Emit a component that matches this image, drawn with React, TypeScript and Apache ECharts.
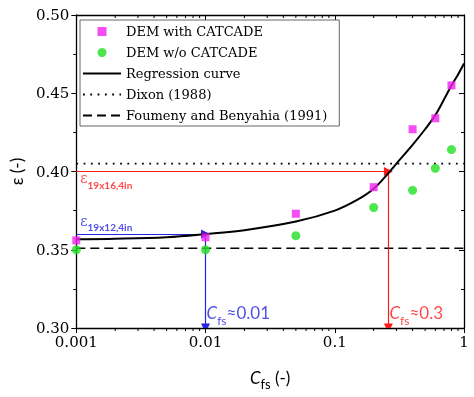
import React, { useEffect, useRef } from "react";
import * as echarts from "echarts";

// ---- data ----
const cfsPoints = [0.001, 0.01, 0.05, 0.2, 0.4, 0.6, 0.8];
const epsWithCatcade = [0.356, 0.358, 0.373, 0.390, 0.427, 0.434, 0.455];
const epsWithoutCatcade = [0.350, 0.350, 0.359, 0.377, 0.388, 0.402, 0.414];

const curveCfs = [0.001, 0.002, 0.005, 0.01, 0.02, 0.05, 0.1, 0.15, 0.2, 0.26, 0.3, 0.4, 0.5, 0.6, 0.7, 0.8, 0.9, 1.0];
const curveEps = [0.3567, 0.357, 0.358, 0.360, 0.3625, 0.368, 0.375, 0.382, 0.389, 0.399, 0.405, 0.417, 0.427, 0.436, 0.446, 0.455, 0.462, 0.469];

const dixonEps = 0.405;
const foumenyEps = 0.351;
const xRange = [0.001, 1];

const xTickValues = [0.001, 0.01, 0.1, 1];
const xTickLabels = ["0.001", "0.01", "0.1", "1"];
const xMinorTicks = [
  0.002, 0.003, 0.004, 0.005, 0.006, 0.007, 0.008, 0.009,
  0.02, 0.03, 0.04, 0.05, 0.06, 0.07, 0.08, 0.09,
  0.2, 0.3, 0.4, 0.5, 0.6, 0.7, 0.8, 0.9,
];

// arrows (data coordinates)
const blueEps = 0.36;
const blueCfs = 0.01;
const redEps = 0.40;
const redCfs = 0.26;

const seriesNames = [
  "DEM with CATCADE",
  "DEM w/o CATCADE",
  "Regression curve",
  "Dixon (1988)",
  "Foumeny and Benyahia (1991)",
];

const SERIF = "DejaVu Serif";
const SANS = "Lato";
const RED = "#ff1a1a";
const BLUE = "#2323e0";

const epsRich = (color: string) => ({
  e: { fontFamily: SERIF, fontSize: 14, color, verticalAlign: "top", lineHeight: 14 },
  s: { fontFamily: SANS, fontWeight: "bold", fontSize: 10, color, verticalAlign: "bottom", lineHeight: 18.5 },
});
const cfsRich = (color: string) => ({
  i: { fontFamily: SANS, fontStyle: "italic", fontSize: 17, color, verticalAlign: "top", lineHeight: 20 },
  s: { fontFamily: SANS, fontSize: 12, color, verticalAlign: "bottom", lineHeight: 22 },
  n: { fontFamily: SANS, fontSize: 17, color, verticalAlign: "top", lineHeight: 20 },
});

export default function App() {
  const ref = useRef<HTMLDivElement>(null);
  useEffect(() => {
    if (!ref.current) return;
    const chart = echarts.init(ref.current, null, { renderer: "svg" });
    const fmtX = (v: number) => {
      for (let i = 0; i < xTickValues.length; i++) {
        if (Math.abs(Math.log10(v) - Math.log10(xTickValues[i])) < 1e-6) return xTickLabels[i];
      }
      return "";
    };
    const yMin = 0.3;
    const yMax = 0.5;
    chart.setOption({
      animation: false,
      grid: { left: 73, right: 10, top: 15, bottom: 69, containLabel: false },
      legend: {
        orient: "vertical",
        left: 80,
        top: 20,
        data: [
          { name: seriesNames[0], icon: "path://M0,0H10V10H0Z" },
          { name: seriesNames[1], icon: "circle" },
          { name: seriesNames[2], itemStyle: { opacity: 0 } },
          { name: seriesNames[3], itemStyle: { opacity: 0 } },
          { name: seriesNames[4], itemStyle: { opacity: 0 } },
        ],
        itemWidth: 38,
        itemHeight: 9,
        itemGap: 8,
        padding: [5, 12, 4, 2],
        backgroundColor: "#fff",
        borderColor: "#666",
        borderWidth: 1,
        borderRadius: 0,
        textStyle: { fontFamily: SERIF, fontSize: 13, color: "#000" },
      },
      xAxis: [
        {
          type: "log",
          logBase: 10,
          min: xRange[0],
          max: xRange[1],
          position: "bottom",
          name: "{i|C}{s|fs}{n| (-)}",
          nameLocation: "middle",
          nameGap: 41,
          nameTextStyle: {
            rich: {
              i: { fontFamily: SANS, fontStyle: "italic", fontSize: 17, color: "#000", verticalAlign: "top", lineHeight: 20 },
              s: { fontFamily: SANS, fontSize: 13, color: "#000", verticalAlign: "bottom", lineHeight: 21.5 },
              n: { fontFamily: SANS, fontSize: 17, color: "#000", verticalAlign: "top", lineHeight: 20 },
            },
          },
          axisLine: { show: true, lineStyle: { color: "#000", width: 1.3 } },
          axisTick: { show: true, inside: false, length: 5, lineStyle: { color: "#000", width: 1 } },
          axisLabel: { formatter: fmtX, fontFamily: SERIF, fontSize: 15, color: "#000", margin: 6 },
          splitLine: { show: false },
        },
        {
          type: "log",
          logBase: 10,
          min: xRange[0],
          max: xRange[1],
          position: "top",
          axisLine: { show: true, lineStyle: { color: "#000", width: 1.3 } },
          axisTick: { show: true, inside: true, length: 5, lineStyle: { color: "#000", width: 1 } },
          axisLabel: { show: false },
          splitLine: { show: false },
        },
      ],
      yAxis: [
        {
          type: "value",
          min: yMin,
          max: yMax,
          interval: 0.05,
          position: "left",
          name: "ε (-)",
          nameLocation: "middle",
          nameGap: 44,
          nameTextStyle: { fontFamily: SANS, fontSize: 17, color: "#000" },
          axisLine: { show: true, lineStyle: { color: "#000", width: 1.3 } },
          axisTick: { show: true, inside: false, length: 5, lineStyle: { color: "#000", width: 1 } },
          minorTick: { show: true, splitNumber: 2, length: 3, lineStyle: { color: "#000", width: 1 } },
          axisLabel: { formatter: (v: number) => v.toFixed(2), fontFamily: SERIF, fontSize: 15, color: "#000", margin: 7 },
          splitLine: { show: false },
        },
        {
          type: "value",
          min: yMin,
          max: yMax,
          interval: 0.05,
          position: "right",
          axisLine: { show: true, lineStyle: { color: "#000", width: 1.3 } },
          axisTick: { show: true, inside: true, length: 5, lineStyle: { color: "#000", width: 1 } },
          minorTick: { show: true, splitNumber: 2, length: 3, lineStyle: { color: "#000", width: 1 } },
          axisLabel: { show: false },
          splitLine: { show: false },
        },
      ],
      series: [
        {
          name: "minorTicks",
          type: "custom",
          xAxisIndex: 0,
          yAxisIndex: 0,
          silent: true,
          data: xMinorTicks.map((v) => [v, yMin]),
          renderItem: (params: any, api: any) => {
            const x = api.coord([api.value(0), yMin])[0];
            const cs = params.coordSys;
            const bottom = cs.y + cs.height;
            return {
              type: "group",
              children: [
                { type: "line", shape: { x1: x, y1: bottom, x2: x, y2: bottom + 3 }, style: { stroke: "#000", lineWidth: 1 } },
                { type: "line", shape: { x1: x, y1: cs.y, x2: x, y2: cs.y + 3 }, style: { stroke: "#000", lineWidth: 1 } },
              ],
            };
          },
          z: 1,
        },
        {
          name: seriesNames[3],
          type: "line",
          data: [[xRange[0], dixonEps], [xRange[1], dixonEps]],
          symbol: "none",
          lineStyle: { color: "#000", width: 1.8, type: [1.8, 5.5] },
          itemStyle: { color: "#000" },
          silent: true,
          z: 2,
        },
        {
          name: seriesNames[4],
          type: "line",
          data: [[xRange[0], foumenyEps], [xRange[1], foumenyEps]],
          symbol: "none",
          lineStyle: { color: "#000", width: 1.6, type: [9, 5] },
          itemStyle: { color: "#000" },
          silent: true,
          z: 2,
        },
        {
          name: "arrows",
          type: "lines",
          coordinateSystem: "cartesian2d",
          symbol: ["none", "triangle"],
          symbolSize: 9,
          silent: true,
          z: 3,
          data: [
            { coords: [[xRange[0], redEps], [redCfs, redEps]], lineStyle: { color: RED, width: 1.2, opacity: 1 } },
            { coords: [[redCfs, redEps], [redCfs, yMin]], lineStyle: { color: RED, width: 1.2, opacity: 1 } },
            { coords: [[xRange[0], blueEps], [blueCfs, blueEps]], lineStyle: { color: BLUE, width: 1.2, opacity: 1 } },
            { coords: [[blueCfs, blueEps], [blueCfs, yMin]], lineStyle: { color: BLUE, width: 1.2, opacity: 1 } },
          ],
        },
        {
          name: seriesNames[2],
          type: "line",
          data: curveCfs.map((c, i) => [c, curveEps[i]]),
          smooth: 0.35,
          symbol: "none",
          lineStyle: { color: "#000", width: 2 },
          itemStyle: { color: "#000" },
          z: 4,
        },
        {
          name: seriesNames[0],
          type: "scatter",
          data: cfsPoints.map((c, i) => [c, epsWithCatcade[i]]),
          symbol: "rect",
          symbolSize: 8,
          itemStyle: { color: "#f020f0" },
          z: 5,
        },
        {
          name: seriesNames[1],
          type: "scatter",
          data: cfsPoints.map((c, i) => [c, epsWithoutCatcade[i]]),
          symbol: "circle",
          symbolSize: 9,
          itemStyle: { color: "#22e022" },
          z: 5,
        },
        {
          name: "labels",
          type: "scatter",
          silent: true,
          symbolSize: 0,
          z: 6,
          data: [
            {
              value: [xRange[0], redEps],
              label: { show: true, position: "right", offset: [-1, 9], formatter: "{e|ε}{s|19x16,4in}", rich: epsRich(RED) },
            },
            {
              value: [xRange[0], blueEps],
              label: { show: true, position: "right", offset: [-1, -11], formatter: "{e|ε}{s|19x12,4in}", rich: epsRich(BLUE) },
            },
            {
              value: [blueCfs, yMin],
              label: { show: true, position: "right", offset: [-4, -13], formatter: "{i|C}{s|fs}{n|≈0.01}", rich: cfsRich(BLUE) },
            },
            {
              value: [redCfs, yMin],
              label: { show: true, position: "right", offset: [-4, -13], formatter: "{i|C}{s|fs}{n|≈0.3}", rich: cfsRich(RED) },
            },
          ],
        },
      ],
    });
    return () => chart.dispose();
  }, []);
  return <div ref={ref} style={{ position: "fixed", left: 0, top: 0, width: 474, height: 397 }} />;
}
